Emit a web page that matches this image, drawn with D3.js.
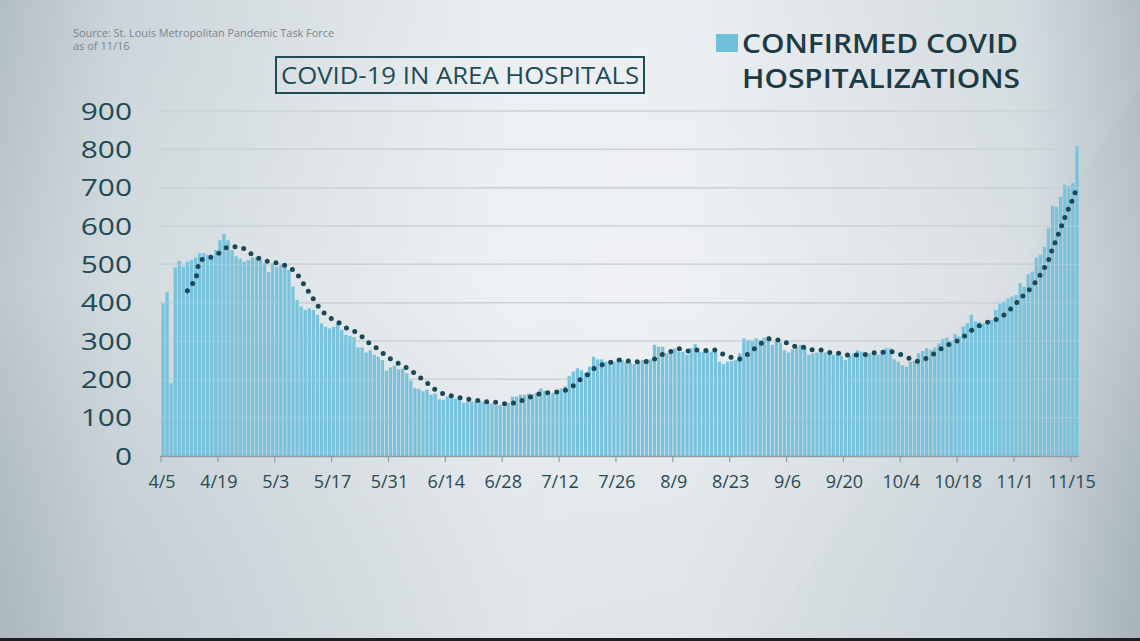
<!DOCTYPE html>
<html>
<head>
<meta charset="utf-8">
<script src="https://cdn.jsdelivr.net/npm/d3@7"></script>
<style>
  html, body { margin: 0; padding: 0; background: #dfe5e8; }
  svg { display: block; }
</style>
</head>
<body>
<div id="chart"></div>
<script>
// daily confirmed covid hospitalizations, 4/5 .. 11/16
const startDate = new Date(2020, 3, 5)
const hospitalized = [
  398,427,190,492,509,494,507,511,518,529,529,525,518,537,563,579,563,537,521,515,
  507,511,518,518,511,502,480,502,494,498,494,485,442,407,390,381,385,381,368,346,
  337,333,337,346,329,316,313,310,283,283,270,276,264,259,250,223,231,236,226,228,
  216,197,177,175,169,173,160,163,148,147,155,155,150,150,139,142,142,142,144,142,
  139,137,133,133,129,139,155,155,160,160,163,162,165,176,170,159,165,172,176,182,
  209,220,229,224,217,233,259,252,252,246,248,246,252,250,246,243,240,246,250,250,
  252,290,285,285,268,276,281,272,272,264,281,292,272,272,276,272,272,246,240,246,
  248,250,268,307,303,301,307,303,309,312,290,298,296,276,270,278,285,290,285,264,
  268,270,272,270,266,264,266,261,250,264,268,276,272,264,268,272,264,276,281,281,
  252,246,237,233,246,248,268,274,281,277,283,294,305,309,300,318,312,338,346,368,
  351,349,346,342,355,381,398,403,411,416,420,451,442,474,481,518,525,546,594,653,
  650,676,708,704,712,808
]
const yTicks = [0, 100, 200, 300, 400, 500, 600, 700, 800, 900]
const xTickLabels = ["4/5","4/19","5/3","5/17","5/31","6/14","6/28","7/12","7/26","8/9","8/23","9/6","9/20","10/4","10/18","11/1","11/15"]
const avgWindow = 7

const width = 1140, height = 641
const margin = { left: 161, right: 61, top: 111, bottom: 185 }

const days = hospitalized.map((v, i) => i)
const fmt = d3.timeFormat("%-m/%-d")
const dateOf = i => d3.timeDay.offset(startDate, i)

// 7 day trailing average, as the dotted line
const avg = hospitalized.map((v, i) => i < avgWindow - 1 ? null : d3.mean(hospitalized.slice(i - avgWindow + 1, i + 1)))

const svg = d3.select("#chart").append("svg")
    .attr("width", width)
    .attr("height", height)

const defs = svg.append("defs")
const bgH = defs.append("linearGradient").attr("id", "bgH")
bgH.selectAll("stop")
  .data([[0, "#aebbc2"], [0.1, "#c8d2d7"], [0.45, "#eaeef1"], [0.6, "#e9edf0"], [0.9, "#cdd6db"], [1, "#a9b6bd"]])
  .enter().append("stop")
    .attr("offset", d => d[0])
    .attr("stop-color", d => d[1])
const bgV = defs.append("linearGradient").attr("id", "bgV")
    .attr("x1", 0).attr("y1", 0).attr("x2", 0).attr("y2", 1)
bgV.selectAll("stop")
  .data([[0, "#ffffff", 0.05], [0.45, "#ffffff", 0.2], [1, "#8fa0a9", 0.12]])
  .enter().append("stop")
    .attr("offset", d => d[0])
    .attr("stop-color", d => d[1])
    .attr("stop-opacity", d => d[2])

svg.append("rect").attr("width", width).attr("height", height).attr("fill", "url(#bgH)")
svg.append("rect").attr("width", width).attr("height", height).attr("fill", "url(#bgV)")
// faint facets in the backdrop
svg.append("path")
    .attr("d", "M640,0 L1140,0 L1140,90 L760,641 L520,641 Z")
    .attr("fill", "#ffffff").attr("opacity", 0.06)
svg.append("rect").attr("x", 0).attr("y", 638).attr("width", width).attr("height", 3).attr("fill", "#1c1f21")

const x = d3.scaleBand()
    .domain(days)
    .range([margin.left, width - margin.right])
    .paddingInner(0.18)
    .paddingOuter(0.09)

const y = d3.scaleLinear()
    .domain([0, 900])
    .range([height - margin.bottom, margin.top])

const slotStart = i => x(i) - (x.step() - x.bandwidth()) / 2

// gridlines
svg.append("g")
  .selectAll("line")
  .data(yTicks.slice(1))
  .enter().append("line")
    .attr("x1", margin.left - 1)
    .attr("x2", width - margin.right)
    .attr("y1", d => y(d))
    .attr("y2", d => y(d))
    .attr("stroke", "#c4ccd1")
    .attr("stroke-width", 1.5)

// bars
svg.append("g")
  .selectAll("rect")
  .data(hospitalized)
  .enter().append("rect")
    .attr("x", (d, i) => x(i))
    .attr("y", d => y(d))
    .attr("width", x.bandwidth())
    .attr("height", d => y(0) - y(d))
    .attr("fill", "#79c2dc")

// gridlines glimpsed over the bars
svg.append("g")
  .selectAll("line")
  .data(yTicks.slice(1))
  .enter().append("line")
    .attr("x1", margin.left)
    .attr("x2", width - margin.right)
    .attr("y1", d => y(d))
    .attr("y2", d => y(d))
    .attr("stroke", "#ffffff")
    .attr("stroke-opacity", 0.18)
    .attr("stroke-width", 1)

// x axis
const tickDays = days.filter(i => xTickLabels.includes(fmt(dateOf(i))))
const xAxis = svg.append("g")
xAxis.append("line")
    .attr("x1", margin.left - 1)
    .attr("x2", width - margin.right)
    .attr("y1", y(0) + 0.5)
    .attr("y2", y(0) + 0.5)
    .attr("stroke", "#8e9ea6")
    .attr("stroke-width", 1.5)
xAxis.selectAll(".tick")
  .data(tickDays)
  .enter().append("line")
    .attr("x1", d => slotStart(d))
    .attr("x2", d => slotStart(d))
    .attr("y1", y(0))
    .attr("y2", y(0) + 6)
    .attr("stroke", "#8e9ea6")
    .attr("stroke-width", 1.2)
xAxis.selectAll("text")
  .data(tickDays)
  .enter().append("text")
    .attr("x", d => slotStart(d) + 1)
    .attr("y", 488)
    .attr("text-anchor", "middle")
    .attr("font-family", "'Open Sans', sans-serif")
    .attr("font-size", 18)
    .attr("fill", "#2a4952")
    .text(d => fmt(dateOf(d)))

// y labels
svg.append("g")
  .selectAll("text")
  .data(yTicks)
  .enter().append("text")
    .attr("transform", d => "translate(132," + (y(d) + 8.5) + ") scale(1.3,1)")
    .attr("text-anchor", "end")
    .attr("font-family", "'Open Sans', sans-serif")
    .attr("font-weight", 500)
    .attr("font-size", 23)
    .attr("fill", "#224a55")
    .text(d => d)

// moving average, dotted
const line = d3.line()
    .defined(d => d != null)
    .x((d, i) => x(i) + x.bandwidth() / 2)
    .y(d => y(d))
    .curve(d3.curveMonotoneX)
svg.append("path")
    .datum(avg)
    .attr("d", line)
    .attr("fill", "none")
    .attr("stroke", "#1c4856")
    .attr("stroke-width", 5)
    .attr("stroke-linecap", "round")
    .attr("stroke-dasharray", "0 9")

// source note
const note = svg.append("g")
    .attr("font-family", "'Open Sans', sans-serif")
    .attr("font-size", 11)
    .attr("fill", "#78858c")
note.append("text").attr("x", 73).attr("y", 37)
    .attr("textLength", 261).attr("lengthAdjust", "spacingAndGlyphs")
    .text("Source: St. Louis Metropolitan Pandemic Task Force")
note.append("text").attr("x", 73).attr("y", 50).text("as of 11/16")

// title box
svg.append("rect")
    .attr("x", 276).attr("y", 57)
    .attr("width", 368).attr("height", 36)
    .attr("fill", "none")
    .attr("stroke", "#1f4b55")
    .attr("stroke-width", 2)
svg.append("text")
    .attr("x", 281).attr("y", 84)
    .attr("font-family", "'Open Sans', sans-serif")
    .attr("font-weight", 500)
    .attr("font-size", 23)
    .attr("fill", "#1f4b55")
    .attr("textLength", 358)
    .attr("lengthAdjust", "spacingAndGlyphs")
    .text("COVID-19 IN AREA HOSPITALS")

// legend
svg.append("rect")
    .attr("x", 716).attr("y", 34)
    .attr("width", 22).attr("height", 18)
    .attr("fill", "#6fbfdb")
const legend = svg.append("g")
    .attr("font-family", "'Open Sans', sans-serif")
    .attr("font-weight", 600)
    .attr("font-size", 27)
    .attr("fill", "#1c3b44")
legend.append("text").attr("x", 742).attr("y", 53)
    .attr("textLength", 276).attr("lengthAdjust", "spacingAndGlyphs")
    .text("CONFIRMED COVID")
legend.append("text").attr("x", 742).attr("y", 88)
    .attr("textLength", 278).attr("lengthAdjust", "spacingAndGlyphs")
    .text("HOSPITALIZATIONS")
</script>
</body>
</html>
